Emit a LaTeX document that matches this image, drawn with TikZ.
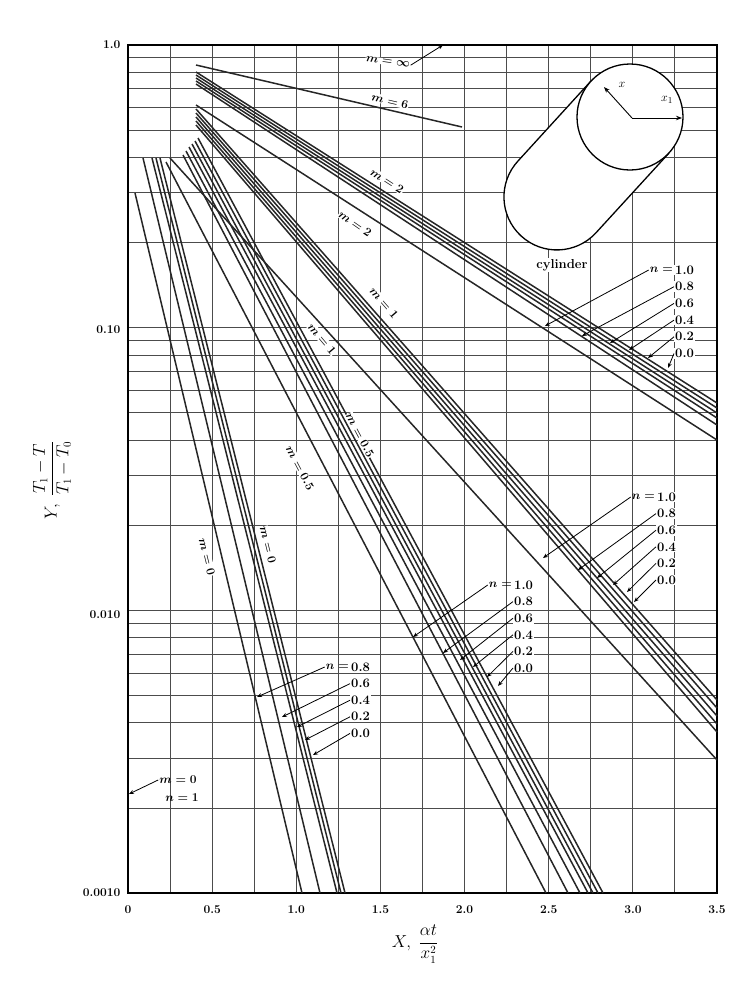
\documentclass[tikz,border=0pt]{standalone}
\usetikzlibrary{arrows.meta}
\begin{document}
\begin{tikzpicture}[x=1pt,y=-1pt,
  curve/.style={line width=1.5pt,black!85},
  gridl/.style={line width=1pt,black!70},
  lab/.style={font=\fontsize{13}{14}\selectfont\bfseries\boldmath,inner sep=1pt},
  mlab/.style={font=\fontsize{13}{13}\selectfont\bfseries\boldmath,fill=white,inner sep=0.5pt},
  tick/.style={font=\fontsize{12}{13}\selectfont\bfseries},
  lead/.style={line width=0.8pt,-{Stealth[length=5pt,width=4pt]}}]
\useasboundingbox (0,0) rectangle (749,986);
% grid
\foreach \k in {0,...,14}{\draw[gridl] ({128+42.07*\k},45) -- ({128+42.07*\k},893);}
\foreach \d in {0,1,2}{\foreach \k in {1,...,9}{
  \draw[gridl] (128,{45+282.7*(\d+1-log10(\k))}) -- (717,{45+282.7*(\d+1-log10(\k))});}}
\draw[line width=1.4pt] (128,45) rectangle (717,893);
% tick labels
\node[tick,anchor=east] (y1) at (124,45) {1.0};
\node[tick,anchor=east] (y2) at (124,330) {0.10};
\node[tick,anchor=east] (y3) at (124,615) {0.010};
\node[tick,anchor=east] (y4) at (124,893) {0.0010};
\foreach \v/\t in {0/0,0.5/0.5,1/1.0,1.5/1.5,2/2.0,2.5/2.5,3/3.0,3.5/3.5}{
  \node[tick] at ({128+168.3*\v},910) {\t};}
\node (xt) at (415,944) {\fontsize{16}{16}\selectfont $X,\ \displaystyle\frac{\alpha t}{x_1^2}$};
\node[rotate=90] (yt) at (52,480) {\fontsize{16}{16}\selectfont $Y,\ \displaystyle\frac{T_1-T}{T_1-T_0}$};
% m = 6
\draw[curve] (196,65) -- (462,127);
% m = 2 group
\foreach \a/\b in {72/403,75/408,78/413,81/418,84/425,105/440}{\draw[curve] (196,\a) -- (717,\b);}
% m = 1 group
\foreach \a/\b in {109/700,113/708,117/716,121/724,125/732}{\draw[curve] (196,\a) -- (717,\b);}
\draw[curve] (170,158) -- (717,760);
% m = 0.5 group
\draw[curve] (166,162) -- (546,893);
\foreach \a/\b/\c in {183/155/568,186/151/580,189/147/588,192/144/593,195/141/598,198/138/603}{\draw[curve] (\a,\b) -- (\c,893);}
% m = 0 group
\draw[curve] (135,193) -- (302,893);
\draw[curve] (143,158) -- (320,893);
\foreach \a/\c in {152/337,156/341,160/345}{\draw[curve] (\a,158) -- (\c,893);}
% m labels
\node[mlab,rotate=-8] (minf) at (388,62) {$m=\infty$};
\coordinate (minfT) at (443,45);
\draw[lead] (minf.east) -- (minfT);
\node[mlab,rotate=-13] (m6) at (390,101) {$m=6$};
\node[mlab,rotate=-33] (m2a) at (387,181) {$m=2$};
\node[mlab,rotate=-35] (m2b) at (355,224) {$m=2$};
\node[mlab,rotate=-49] (m1a) at (384,303) {$m=1$};
\node[mlab,rotate=-50] (m1b) at (322,339) {$m=1$};
\node[mlab,rotate=-62] (m05a) at (360,435) {$m=0.5$};
\node[mlab,rotate=-62] (m05b) at (300,468) {$m=0.5$};
\node[mlab,rotate=-76] (m0a) at (207,557) {$m=0$};
\node[mlab,rotate=-76] (m0b) at (268,545) {$m=0$};
% m=0 n=1
\node[lab] (m0n1a) at (178,780) {$m=0$};
\node[lab] (m0n1b) at (182,798) {$n=1$};
\coordinate (m0n1T) at (129,794);
\draw[lead] (m0n1a.west) -- (m0n1T);
\foreach \g/\vx/\vy in {A/674/270,B/656/497,C/513/585}{
  \node[lab,anchor=east] (n\g) at (\vx,\vy) {$n=$};
}
\foreach \i/\t in {0/1.0,1/0.8,2/0.6,3/0.4,4/0.2,5/0.0}{
  \node[lab,anchor=west,fill=white] (A\i) at (674,{270+16.7*\i}) {\t};
  \node[lab,anchor=west,fill=white] (B\i) at (656,{497+16.6*\i}) {\t};
  \node[lab,anchor=west,fill=white] (C\i) at (513,{585+16.6*\i}) {\t};
}
\foreach \i/\t in {0/0.8,1/0.6,2/0.4,3/0.2,4/0.0}{
  \node[lab,anchor=west,fill=white] (D\i) at (350,{667+16.6*\i}) {\t};}
\node[lab,anchor=east] (nD) at (350,667) {$n=$};
% leaders group A
\draw[lead] (nA.west) -- (545,326);
\foreach \i/\x/\y in {1/582/336,2/610/343,3/629/350,4/648/358,5/668/368}{\draw[lead] (A\i.west) -- (\x,\y);}
% group B
\draw[lead] (nB.west) -- (543,558);
\foreach \i/\x/\y in {1/578/570,2/597/578,3/613/585,4/627/592,5/634/602}{\draw[lead] (B\i.west) -- (\x,\y);}
% group C
\draw[lead] (nC.west) -- (413,637);
\foreach \i/\x/\y in {1/443/653,2/460/660,3/473/667,4/487/677,5/498/686}{\draw[lead] (C\i.west) -- (\x,\y);}
% group D
\draw[lead] (nD.west) -- (257,697);
\foreach \i/\x/\y in {1/282/717,2/297/727,3/305/740,4/313/755}{\draw[lead] (D\i.west) -- (\x,\y);}
% cylinder
\fill[white] (591,81) -- (518,161) arc[start angle=222.7,end angle=42.7,radius=53] -- (669,153) -- cycle;
\draw[line width=1.3pt] (591,81) -- (518,161) arc[start angle=222.7,end angle=42.7,radius=53] -- (669,153);
\draw[line width=1.3pt,fill=white] (630,117) circle[radius=53];
\coordinate (cc) at (632,118);
\coordinate (cx) at (604,87);
\coordinate (cx1) at (682,118);
\draw[line width=0.9pt,-{Stealth[length=6pt]}] (cc) -- (cx);
\draw[line width=0.9pt,-{Stealth[length=6pt]}] (cc) -- (cx1);
\node (lx) at (622,85) {\fontsize{13}{13}\selectfont $x$};
\node (lx1) at (667,100) {\fontsize{13}{13}\selectfont $x_1$};
\node[lab,fill=white] (cyl) at (562,265) {cylinder};
\end{tikzpicture}
\end{document}
